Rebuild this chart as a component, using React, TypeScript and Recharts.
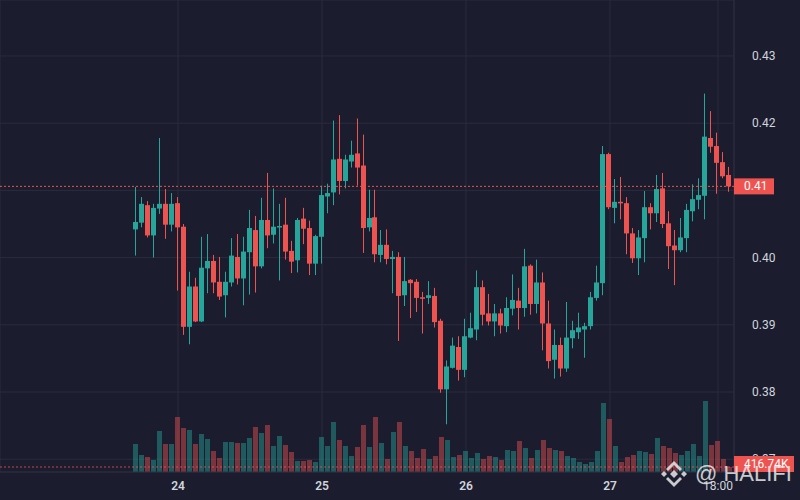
import React from "react";
import {
  ComposedChart,
  Bar,
  XAxis,
  YAxis,
  CartesianGrid,
  ReferenceLine,
  Cell,
} from "recharts";

// hourly candles, index 0..99
const opens = [
  0.4042, 0.4052, 0.4078, 0.4033, 0.4073, 0.408, 0.4049, 0.4081, 0.4046, 0.3897,
  0.3957, 0.3905, 0.3984, 0.3995, 0.3964, 0.3944, 0.3963, 0.4001, 0.3969, 0.4008,
  0.4041, 0.3987, 0.4056, 0.4034, 0.4046, 0.4049, 0.401, 0.3996, 0.4058, 0.4044,
  0.3991, 0.4031, 0.4091, 0.4097, 0.4147, 0.4114, 0.4143, 0.4155, 0.4137, 0.4045,
  0.406, 0.4004, 0.4019, 0.3998, 0.4001, 0.3944, 0.3967, 0.3964, 0.3941, 0.394,
  0.3943, 0.3906, 0.3804, 0.3836, 0.3867, 0.3833, 0.3881, 0.3893, 0.3956, 0.3917,
  0.3905, 0.3917, 0.3898, 0.3924, 0.3936, 0.3925, 0.3988, 0.3931, 0.3963, 0.3902,
  0.3848, 0.387, 0.3835, 0.388, 0.3889, 0.3893, 0.3898, 0.394, 0.3962, 0.4154,
  0.4074, 0.4083, 0.4081, 0.4036, 0.3999, 0.4029, 0.4075, 0.4066, 0.4103, 0.4051,
  0.4018, 0.4011, 0.4029, 0.4069, 0.4086, 0.4092, 0.4178, 0.4166, 0.4142, 0.4123,
];
const highs = [
  0.4105, 0.409, 0.4084, 0.408, 0.4178, 0.4102, 0.4096, 0.409, 0.405, 0.3979,
  0.397, 0.4031, 0.4035, 0.4004, 0.4001, 0.3979, 0.4029, 0.4035, 0.4031, 0.4071,
  0.4062, 0.4089, 0.4126, 0.4103, 0.408, 0.4089, 0.4025, 0.4059, 0.4074, 0.4055,
  0.4034, 0.4107, 0.411, 0.4204, 0.4212, 0.4153, 0.4174, 0.4207, 0.4183, 0.4101,
  0.4101, 0.4041, 0.4042, 0.401, 0.4008, 0.4001, 0.3968, 0.3968, 0.3949, 0.3965,
  0.3955, 0.3909, 0.3847, 0.3881, 0.3883, 0.3909, 0.3918, 0.3981, 0.3966, 0.3946,
  0.3931, 0.3924, 0.3941, 0.3975, 0.3955, 0.4013, 0.399, 0.3997, 0.3978, 0.3936,
  0.3893, 0.3881, 0.3934, 0.3906, 0.3918, 0.3903, 0.3949, 0.3988, 0.4166, 0.4156,
  0.4117, 0.412, 0.409, 0.4044, 0.4041, 0.4099, 0.4081, 0.4123, 0.4126, 0.4069,
  0.4041, 0.4059, 0.408, 0.4109, 0.4118, 0.4244, 0.4218, 0.4186, 0.4157, 0.4135,
];
const lows = [
  0.4003, 0.4045, 0.403, 0.4, 0.4065, 0.4028, 0.4039, 0.3951, 0.3885, 0.3871,
  0.3904, 0.3904, 0.3947, 0.3947, 0.3937, 0.3911, 0.3957, 0.396, 0.3929, 0.3945,
  0.3948, 0.3984, 0.4014, 0.4021, 0.3966, 0.3997, 0.3977, 0.3978, 0.402, 0.3974,
  0.3974, 0.3991, 0.4066, 0.4078, 0.4094, 0.4103, 0.4134, 0.4107, 0.4007, 0.4039,
  0.3993, 0.3993, 0.399, 0.3947, 0.3876, 0.3928, 0.391, 0.3919, 0.3887, 0.3931,
  0.3896, 0.3799, 0.3752, 0.3835, 0.3817, 0.3822, 0.388, 0.3877, 0.3899, 0.3899,
  0.3883, 0.3887, 0.3889, 0.3914, 0.3893, 0.3912, 0.3915, 0.3917, 0.3862, 0.3835,
  0.382, 0.3823, 0.383, 0.3865, 0.3879, 0.3851, 0.3893, 0.3936, 0.3944, 0.4072,
  0.4051, 0.4057, 0.4005, 0.3992, 0.3974, 0.3993, 0.4042, 0.4053, 0.4044, 0.3983,
  0.3959, 0.4008, 0.4008, 0.4054, 0.4072, 0.4057, 0.4156, 0.4095, 0.4118, 0.4098,
];
const closes = [
  0.4053, 0.408, 0.4033, 0.4074, 0.408, 0.4049, 0.408, 0.4045, 0.3897, 0.3957,
  0.3905, 0.3985, 0.3995, 0.3963, 0.3942, 0.3964, 0.4003, 0.3969, 0.4009, 0.4044,
  0.3987, 0.4056, 0.4033, 0.4046, 0.4047, 0.4009, 0.3994, 0.4056, 0.4043, 0.3991,
  0.4032, 0.4093, 0.4096, 0.4146, 0.4114, 0.4146, 0.4153, 0.4134, 0.4044, 0.4059,
  0.4005, 0.4019, 0.3998, 0.4001, 0.3943, 0.3965, 0.3962, 0.394, 0.3939, 0.3944,
  0.3904, 0.3804, 0.3838, 0.3869, 0.3833, 0.3883, 0.3895, 0.3956, 0.3915, 0.3905,
  0.3917, 0.3899, 0.3925, 0.3937, 0.3925, 0.3987, 0.3931, 0.3963, 0.3902, 0.3846,
  0.387, 0.3835, 0.3881, 0.3892, 0.3896, 0.3898, 0.3941, 0.3963, 0.4154, 0.4075,
  0.4083, 0.4081, 0.4036, 0.3999, 0.403, 0.4075, 0.4066, 0.4102, 0.405, 0.4017,
  0.4011, 0.403, 0.4071, 0.4087, 0.4093, 0.418, 0.4165, 0.4141, 0.4121, 0.4106,
];
// volume in thousands
const volumes = [
  2334, 1417, 1250, 1000, 3417, 2334, 2334, 4584, 3667, 3501,
  2334, 3167, 2751, 1750, 1167, 2501, 2501, 2417, 2417, 2834,
  3751, 3251, 3917, 2167, 3001, 2250, 1667, 917, 917, 1000,
  834, 2917, 2167, 4168, 2667, 2167, 1334, 2084, 3917, 2084,
  4584, 2417, 1084, 3334, 4168, 2167, 1750, 1167, 1917, 1084,
  1334, 2917, 2667, 1250, 1417, 1750, 1167, 1584, 1084, 1334,
  1250, 1000, 1834, 1750, 2584, 2000, 1167, 1834, 2667, 2000,
  1834, 1750, 1334, 1167, 834, 667, 834, 1750, 5751, 4418,
  2167, 834, 1250, 1417, 1750, 1667, 1500, 2834, 2167, 2000,
  1584, 1417, 1750, 2334, 1334, 5918, 2250, 2584, 1084, 416.74,
];

const timeTicks = [7, 31, 55, 79, 97];
const timeLabels = ["24", "25", "26", "27", "18:00"];
const priceTicks = [0.37, 0.38, 0.39, 0.4, 0.41, 0.42, 0.43];

const BG = "#1b1c2e";
const GRID = "#2a2c3f";
const GREEN = "#26a69a";
const RED = "#ef5350";
const TEXT = "#d1d4dc";
const FONT = "Roboto, 'Noto Sans', sans-serif";

const data = opens.map((o, i) => ({
  idx: i,
  open: o,
  high: highs[i],
  low: lows[i],
  close: closes[i],
  range: [lows[i], highs[i]],
  volume: volumes[i],
}));

const lastClose = closes[closes.length - 1];
const lastVolume = volumes[volumes.length - 1];

const Candle = (props: any) => {
  const { x, y, width, height, payload } = props;
  if (x == null || y == null) return null;
  const top = Math.min(y, y + height);
  const h = Math.abs(height);
  const { open, close, high, low } = payload;
  const pos = (v: number) => top + ((high - v) / (high - low)) * h;
  const color = close >= open ? GREEN : RED;
  const bTop = pos(Math.max(open, close));
  const bBot = pos(Math.min(open, close));
  const cx = Math.round(x + width / 2) - 0.5;
  return (
    <g>
      <line x1={cx} x2={cx} y1={top} y2={top + h} stroke={color} strokeWidth={1} />
      <rect x={cx - 2.5} y={bTop} width={5} height={Math.max(1.5, bBot - bTop)} fill={color} />
    </g>
  );
};

const PriceTag = (props: any) => {
  const { viewBox, text, bottomLimit } = props;
  if (!viewBox) return null;
  const x = viewBox.x + viewBox.width;
  let top = viewBox.y - 8;
  if (bottomLimit != null) top = Math.min(top, bottomLimit - 16);
  const w = text.length > 5 ? 60 : 40;
  return (
    <g>
      <rect x={x} y={top} width={w} height={16} fill={RED} />
      <text
        x={x + 10}
        y={top + 12}
        fill="#ffffff"
        fontSize={12}
        fontFamily={FONT}
      >
        {text}
      </text>
    </g>
  );
};

const XTick = (props: any) => {
  const { x, y, payload } = props;
  const i = timeTicks.indexOf(payload.value);
  const label = i >= 0 ? timeLabels[i] : "";
  const isDay = label.indexOf(":") < 0;
  return (
    <text
      x={x}
      y={y + 10}
      textAnchor="middle"
      fill={TEXT}
      fontSize={12}
      fontWeight={isDay ? 600 : 400}
      fontFamily={FONT}
    >
      {label}
    </text>
  );
};

const YTick = (props: any) => {
  const { x, y, payload } = props;
  return (
    <text x={x + 10} y={y + 4} textAnchor="start" fill={TEXT} fontSize={12} fontFamily={FONT}>
      {Number(payload.value).toFixed(2)}
    </text>
  );
};

const Watermark = () => (
  <div
    style={{
      position: "absolute",
      left: 660,
      top: 460,
      display: "flex",
      alignItems: "center",
      pointerEvents: "none",
      opacity: 0.85,
    }}
  >
    <svg width={28} height={28} viewBox="0 0 28 28">
      <g fill="#e8e8ea">
        <polygon points="14,1 22,9 20,11 14,5 8,11 6,9" />
        <polygon points="14,27 22,19 20,17 14,23 8,17 6,19" />
        <polygon points="14,10 18,14 14,18 10,14" />
        <polygon points="4,11 7,14 4,17 1,14" />
        <polygon points="24,11 27,14 24,17 21,14" />
      </g>
    </svg>
    <span
      style={{
        marginLeft: 7,
        color: "#e8e8ea",
        fontSize: 22,
        fontFamily: "'Liberation Sans', Arial, sans-serif",
        lineHeight: "28px",
        whiteSpace: "nowrap",
      }}
    >
      @ HALIFI
    </span>
  </div>
);

export default function App() {
  return (
    <div
      style={{
        position: "absolute",
        left: 0,
        top: 0,
        width: 800,
        height: 500,
        background: BG,
        overflow: "hidden",
      }}
    >
      <ComposedChart
        width={800}
        height={500}
        data={data}
        margin={{ top: 0, right: 0, bottom: 0, left: 0 }}
      >
        <CartesianGrid stroke={GRID} yAxisId="price" vertical horizontal />
        <XAxis
          dataKey="idx"
          type="number"
          domain={[-22.667, 99.667]}
          allowDataOverflow
          ticks={timeTicks}
          interval={0}
          tick={<XTick />}
          tickLine={false}
          axisLine={{ stroke: GRID }}
          height={28}
        />
        <XAxis xAxisId="vx" dataKey="idx" type="number" domain={[-22.667, 99.667]} allowDataOverflow hide />
        <YAxis
          yAxisId="price"
          orientation="right"
          type="number"
          domain={[0.3681, 0.43833]}
          allowDataOverflow
          ticks={priceTicks}
          interval={0}
          tick={<YTick />}
          tickLine={false}
          axisLine={{ stroke: GRID }}
          width={66}
        />
        <YAxis yAxisId="vol" type="number" domain={[0, 39341]} allowDataOverflow hide />
        <Bar
          xAxisId="vx"
          yAxisId="vol"
          dataKey="volume"
          barSize={5}
          isAnimationActive={false}
        >
          {data.map((d, i) => (
            <Cell key={i} fill={d.close >= d.open ? GREEN : RED} fillOpacity={0.45} />
          ))}
        </Bar>
        <Bar
          yAxisId="price"
          dataKey="range"
          barSize={5}
          shape={<Candle />}
          isAnimationActive={false}
        />
        <ReferenceLine
          yAxisId="vol"
          xAxisId="vx"
          y={lastVolume}
          stroke={RED}
          strokeDasharray="2 2"
          strokeOpacity={0.8}
          zIndex={2100}
          label={<PriceTag text={`${lastVolume.toFixed(2)}K`} bottomLimit={472} />}
        />
        <ReferenceLine
          yAxisId="price"
          y={lastClose}
          stroke={RED}
          strokeDasharray="2 2"
          zIndex={2100}
          label={<PriceTag text={lastClose.toFixed(2)} />}
        />
      </ComposedChart>
      <Watermark />
    </div>
  );
}
